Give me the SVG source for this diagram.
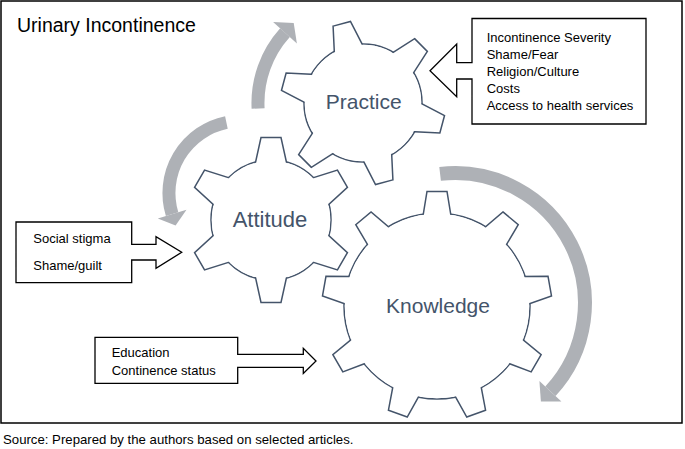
<svg xmlns="http://www.w3.org/2000/svg" xmlns:xlink="http://www.w3.org/1999/xlink" width="685" height="449" viewBox="0 0 685 449">
<style>
.gear{fill:#fff;stroke:#44546A;stroke-width:1.5;stroke-linejoin:miter}
.cover{fill:#fff;stroke:none}
.glabel{font-family:"Liberation Sans",Arial,sans-serif;fill:#44546A;text-anchor:middle}
.box{fill:#fff;stroke:#000;stroke-width:1.3;stroke-linejoin:miter}
.btxt{font-family:"Liberation Sans",Arial,sans-serif;font-size:13px;fill:#000}
.band{fill:none;stroke:#AEB1B6;stroke-linecap:butt}
.head{fill:#AEB1B6;stroke:none}
</style>
<defs>
<polygon id="tA" class="gear" points="-10,-82.5 10,-82.5 16.3,-54 -16.3,-54"/>
<polygon id="tP" class="gear" points="-9,-82 9,-82 15.3,-53 -15.3,-53"/>
<polygon id="tK" class="gear" points="-10,-114.5 10,-114.5 14.5,-87 -14.5,-87"/>
</defs>
<rect width="685" height="449" fill="#fff"/>
<rect x="1" y="1" width="681" height="422" fill="none" stroke="#000" stroke-width="1.5"/>
<text x="17" y="31.5" font-family="Liberation Sans, Arial, sans-serif" font-size="19.5" fill="#000">Urinary Incontinence</text>

<g id="connectors">
<path class="band" stroke-width="13" d="M258.1,108.5 A105,105 0 0 1 285,32.7"/>
<polygon class="head" points="273.1,22 296.9,43.5 293.7,23"/>
<path class="band" stroke-width="13" d="M226.4,122.5 A72,72 0 0 0 172.1,214.1"/>
<polygon class="head" points="157.8,218.4 186.5,209.7 175.6,225.6"/>
<path class="band" stroke-width="14" d="M440.1,173.9 A130,130 0 0 1 550.4,391.3"/>
<polygon class="head" points="561.4,401.5 539.4,381.1 540.9,401.6"/>
</g>

<g id="gear-practice">
<circle class="gear" cx="363" cy="103" r="59"/>
<g transform="translate(363 103)">
<use xlink:href="#tP" transform="rotate(-15)"/>
<use xlink:href="#tP" transform="rotate(45)"/>
<use xlink:href="#tP" transform="rotate(105)"/>
<use xlink:href="#tP" transform="rotate(165)"/>
<use xlink:href="#tP" transform="rotate(225)"/>
<use xlink:href="#tP" transform="rotate(285)"/>
</g>
<circle class="cover" cx="363" cy="103" r="58.25"/>
<text class="glabel" x="363.7" y="108.5" font-size="21">Practice</text>
</g>

<g id="gear-attitude">
<circle class="gear" cx="271" cy="220" r="60"/>
<g transform="translate(271 220)">
<use xlink:href="#tA"/>
<use xlink:href="#tA" transform="rotate(60)"/>
<use xlink:href="#tA" transform="rotate(120)"/>
<use xlink:href="#tA" transform="rotate(180)"/>
<use xlink:href="#tA" transform="rotate(240)"/>
<use xlink:href="#tA" transform="rotate(300)"/>
</g>
<circle class="cover" cx="271" cy="220" r="59.25"/>
<text class="glabel" x="270" y="227" font-size="22">Attitude</text>
</g>

<g id="gear-knowledge">
<circle class="gear" cx="437" cy="306" r="93"/>
<g transform="translate(437 306)">
<use xlink:href="#tK"/>
<use xlink:href="#tK" transform="rotate(40)"/>
<use xlink:href="#tK" transform="rotate(80)"/>
<use xlink:href="#tK" transform="rotate(120)"/>
<use xlink:href="#tK" transform="rotate(160)"/>
<use xlink:href="#tK" transform="rotate(200)"/>
<use xlink:href="#tK" transform="rotate(240)"/>
<use xlink:href="#tK" transform="rotate(280)"/>
<use xlink:href="#tK" transform="rotate(320)"/>
</g>
<circle class="cover" cx="437" cy="306" r="92.25"/>
<text class="glabel" x="438" y="313" font-size="21">Knowledge</text>
</g>

<g id="box-practice-factors">
<path class="box" d="M472,18.5 H646 V124 H472 V79 H456.7 V96.7 L430,70.7 L456.7,44 V62.7 H472 Z"/>
<text class="btxt" x="486.7" y="41.5">Incontinence Severity</text>
<text class="btxt" x="486.7" y="58.7">Shame/Fear</text>
<text class="btxt" x="486.7" y="75.8">Religion/Culture</text>
<text class="btxt" x="486.7" y="93">Costs</text>
<text class="btxt" x="486.7" y="110.2">Access to health services</text>
</g>

<g id="box-attitude-factors">
<path class="box" d="M16,222 H131.7 V244.3 H156 V236.7 L181.7,252.3 L156,268.3 V260 H131.7 V282.7 H16 Z"/>
<text class="btxt" x="33.3" y="243.3">Social stigma</text>
<text class="btxt" x="33.3" y="270">Shame/guilt</text>
</g>

<g id="box-knowledge-factors">
<path class="box" d="M95,337.3 H237.7 V354.3 H303.3 V348.3 L316,361 L303.3,373.5 V367.3 H237.7 V383.3 H95 Z"/>
<text class="btxt" x="111.7" y="356.7">Education</text>
<text class="btxt" x="111.7" y="375">Continence status</text>
</g>

<text x="3" y="443.5" font-family="Liberation Sans, Arial, sans-serif" font-size="13.2" fill="#000">Source: Prepared by the authors based on selected articles.</text>
</svg>
